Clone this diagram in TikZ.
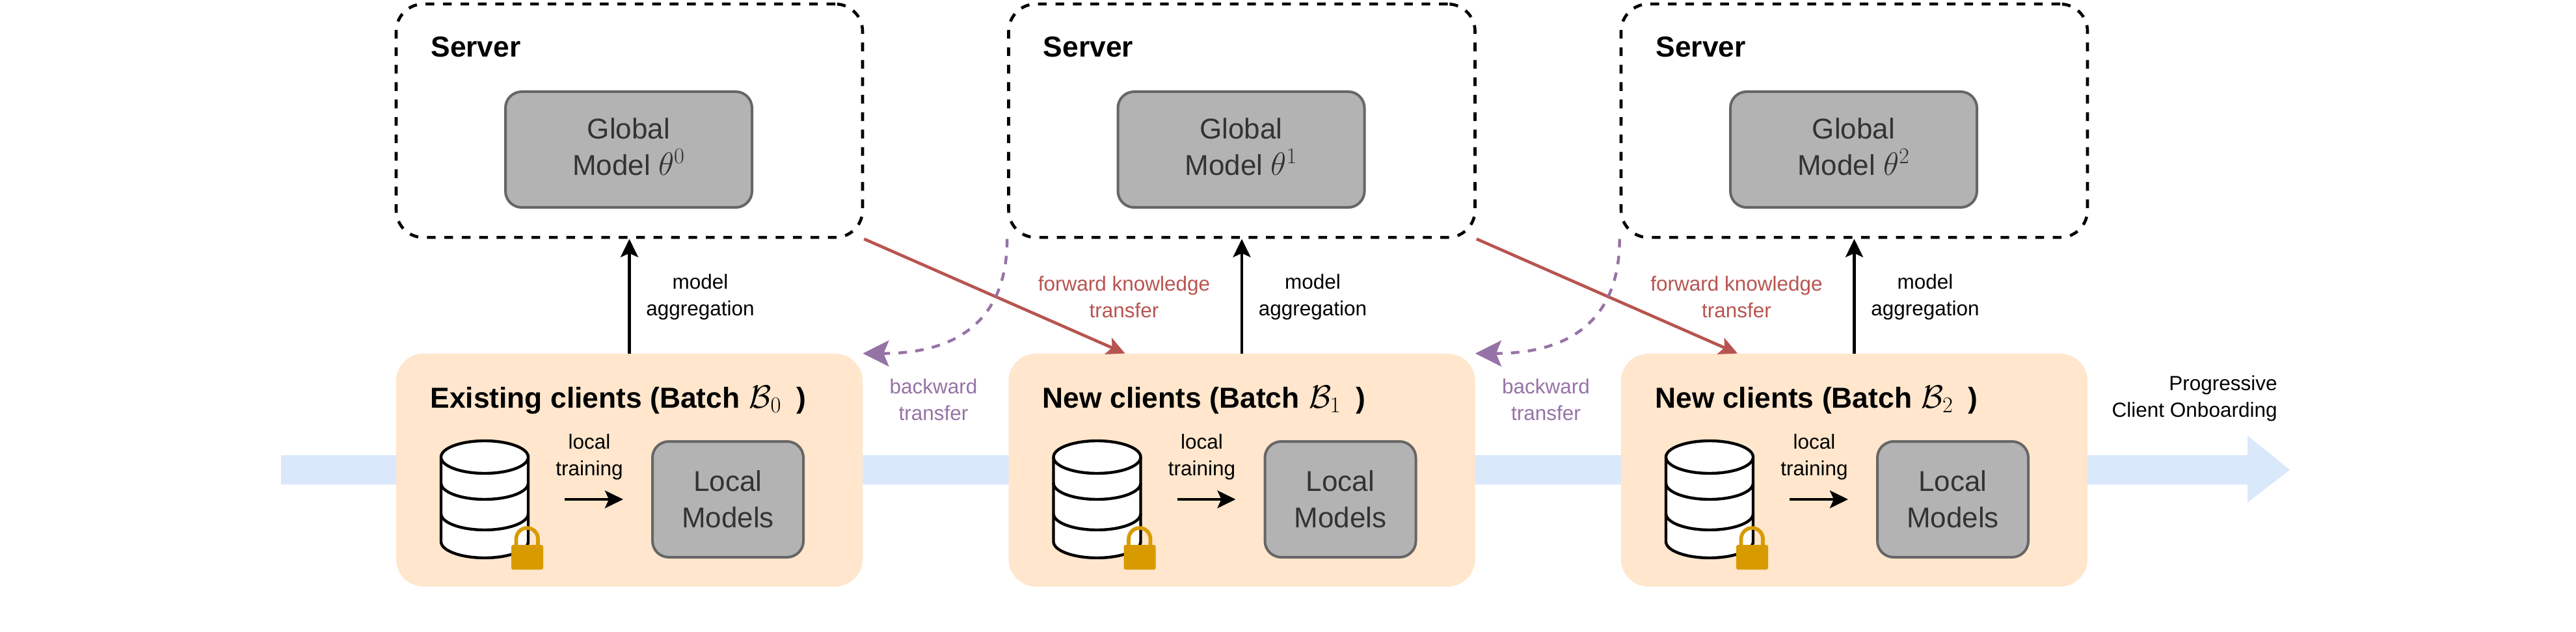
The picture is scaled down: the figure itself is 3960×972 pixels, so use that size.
\documentclass[tikz,border=0pt]{standalone}
\usepackage[no-math]{fontspec}
\setmainfont{Liberation Sans}
\usetikzlibrary{arrows.meta,calc}
\definecolor{clientfill}{HTML}{FFE6CC}
\definecolor{bandfill}{HTML}{DAE8FC}
\definecolor{modelfill}{HTML}{B3B3B3}
\definecolor{modelline}{HTML}{666666}
\definecolor{modeltext}{HTML}{333333}
\definecolor{fwd}{HTML}{B85450}
\definecolor{bwd}{HTML}{9673A6}
\definecolor{lockc}{HTML}{D79B00}
\newcommand{\bigmath}[1]{{\fontsize{27}{27}\selectfont$#1$}}
\newcommand{\batchsym}[1]{\kern1pt\bigmath{\mathcal{B}_{#1}}\kern11.4pt}
\tikzset{
  x=0.5pt,y=-0.5pt,
  bigfont/.style={font=\fontsize{22}{28}\selectfont},
  titlefont/.style={font=\fontsize{22.2}{28}\selectfont},
  smallfont/.style={font=\fontsize{15.75}{20.35}\selectfont},
  serverbox/.style={draw=black,line width=2.3pt,dash pattern=on 6.7pt off 6.7pt,rounded corners=21pt,minimum width=358.5pt,minimum height=179.5pt,inner sep=0pt},
  clientbox/.style={fill=clientfill,draw=none,rounded corners=21pt,minimum width=358.5pt,minimum height=179pt,inner sep=0pt},
  modelbox/.style={fill=modelfill,draw=modelline,line width=2pt,rounded corners=12.5pt,inner sep=0pt,text=modeltext,align=center,bigfont},
  modeltextstyle/.style={inner sep=0pt,text=modeltext,align=center,bigfont},
  title/.style={anchor=base west,inner sep=0pt,titlefont},
  lbl/.style={inner sep=0pt,align=center,smallfont},
  conn/.style={draw=black,line width=2.2pt,-{Stealth[inset=3pt,length=14pt,width=13.5pt]}},
  fwdarrow/.style={draw=fwd,line width=2.3pt,-{Stealth[inset=3pt,length=14pt,width=13.5pt]}},
  bwdarrow/.style={draw=bwd,line width=2.2pt,dash pattern=on 6.5pt off 6.5pt,-{Stealth[inset=4pt,length=20pt,width=20pt]}},
  dbline/.style={draw=black,line width=2.2pt,fill=white},
}
\begin{document}
\begin{tikzpicture}
\useasboundingbox (0,0) rectangle (3960,972);
\fill[white] (0,0) rectangle (3960,972);
\fill[bandfill] (432,700) -- (3455,700) -- (3455,670) -- (3520,722.5) -- (3455,773) -- (3455,745) -- (432,745) -- cycle;
\foreach \i/\ttl in {0/Existing clients (Batch \batchsym{0}),1/New clients (Batch \batchsym{1}),2/New clients (Batch \batchsym{2})}{
\begin{scope}[shift={(941.5*\i,0)}]
  \node[serverbox] (server\i) at (967.5,185.7) {};
  \node[title] (servertitle\i) at (662,88) {\textbf{Server}};
  \node[modelbox,minimum width=189.5pt,minimum height=89pt] (global\i) at (966.5,230) {};
  \node[modeltextstyle] (globaltext\i) at (966.5,226) {Global\\Model \bigmath{\theta^{\i}}};
  \node[clientbox] (client\i) at (967.5,723) {};
  \node[title] (clienttitle\i) at (661,627) {\textbf{\ttl}};
  % database
  \draw[dbline] (678,703) -- (678,833) arc[start angle=180,end angle=0,x radius=67,y radius=25] -- (812,703);
  \draw[dbline] (745,703) ellipse[x radius=67,y radius=25];
  \draw[dbline,fill=none] (678,743) arc[start angle=180,end angle=0,x radius=67,y radius=25];
  \draw[dbline,fill=none] (678,790) arc[start angle=180,end angle=0,x radius=67,y radius=25];
  % lock
  \draw[lockc,line width=2.85pt] (793.5,842) -- (793.5,829) arc[start angle=180,end angle=360,x radius=16.75,y radius=17] -- (827,842);
  \fill[lockc,rounded corners=1.4pt] (786,838) rectangle (835,876);
  \node[modelbox,minimum width=116pt,minimum height=89pt] (local\i) at (1119,768) {Local\\Models};
  \coordinate (ltstart\i) at (868,768);
  \coordinate (ltend\i) at (958,768);
  \draw[conn] (ltstart\i) -- (ltend\i);
  \node[lbl] (ltlabel\i) at (906,703) {local\\training};
  \node[lbl] (agglabel\i) at (1076.5,457) {model\\aggregation};
  \draw[conn] (client\i.north) -- (server\i.south);
\end{scope}
}
\node[lbl,text=fwd] (fk1) at (1728,457) {forward knowledge\\transfer};
\node[lbl,text=fwd] (fk2) at (2669.5,457) {forward knowledge\\transfer};
\node[lbl,text=bwd] (bt1) at (1435,615) {backward\\transfer};
\node[lbl,text=bwd] (bt2) at (2376.5,615) {backward\\transfer};
\node[lbl,anchor=east,align=right] (prog) at (3501,613) {Progressive\\Client Onboarding};
\foreach \a/\b in {0/1,1/2}{
  \draw[fwdarrow] (server\a.south east) -- ($(client\b.north west)!0.25!(client\b.north east)$);
  \draw[bwdarrow] (server\b.south west) .. controls ($(server\b.south west)+(0,125)$) and ($(client\a.north east)+(145,0)$) .. (client\a.north east);
}
\end{tikzpicture}
\end{document}
